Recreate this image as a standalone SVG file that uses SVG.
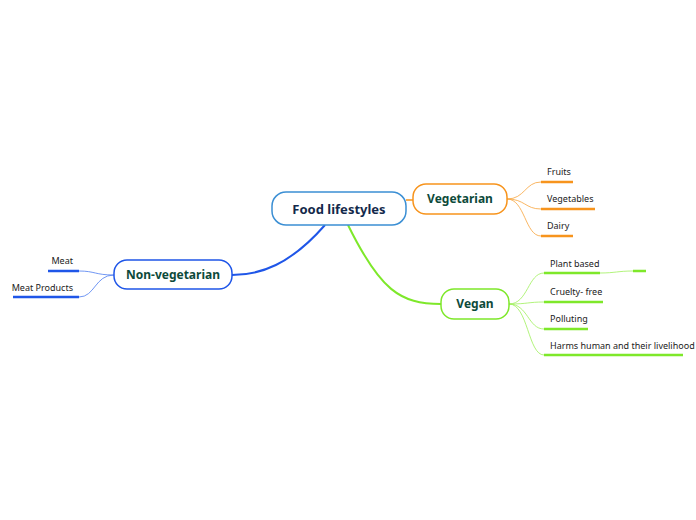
<svg xmlns="http://www.w3.org/2000/svg" width="696" height="520" viewBox="0 0 696 520">
<style>
text{font-family:"Noto Sans","Open Sans",sans-serif;}
.t{font-size:9px;fill:#222}
.n{font-size:12px;font-weight:bold;fill:#0d4a3a;text-anchor:middle}
.box{fill:#fff;stroke-width:1.5}
.c{fill:none}
</style>
<rect width="696" height="520" fill="#fff"/>
<g id="connectors" class="c">
<path d="M406,200 H413" stroke="#f7941d" stroke-width="1.5"/>
<path d="M348,225 C380,290 400,304 441,304" stroke="#7ee82a" stroke-width="2"/>
<path d="M325,225 C290,265 260,275 232,275" stroke="#1f56e8" stroke-width="2"/>
<g stroke="#f7a33b" stroke-width="0.8">
<path d="M507,199 C525,199 525,182 541,182"/>
<path d="M507,199 C525,199 525,209 541,209"/>
<path d="M507,199 C525,199 525,236 541,236"/>
</g>
<g stroke="#9ef05a" stroke-width="0.8">
<path d="M509,304 C528,304 528,273 544,273"/>
<path d="M509,304 C528,304 528,302 544,302"/>
<path d="M509,304 C528,304 528,329 544,329"/>
<path d="M509,304 C528,304 528,355 544,355"/>
<path d="M600,273 C615,273 618,271 633,271"/>
</g>
<g stroke="#4d7cf0" stroke-width="0.8">
<path d="M114,275 C95,275 95,271 79,271"/>
<path d="M114,275 C95,275 95,297 79,297"/>
</g>
</g>
<g stroke-width="2.5">
<path d="M541,182H573M541,209H595M541,236H573" stroke="#f7941d"/>
<path d="M544,273H600M633,271H646M544,302H603M544,329H588M544,355H683" stroke="#7ee82a"/>
<path d="M48,271H79M13,297H79" stroke="#1f56e8"/>
</g>
<g id="root"><rect class="box" x="272" y="192" width="134" height="33" rx="14" stroke="#3b8fd4"/><text x="339" y="214" class="n" style="font-size:13px;fill:#13294b">Food lifestyles</text></g>
<g id="vegetarian"><rect class="box" x="413" y="184" width="94" height="30" rx="13" stroke="#f7941d"/><text x="460" y="203" class="n">Vegetarian</text></g>
<g id="vegan"><rect class="box" x="441" y="289" width="68" height="30" rx="13" stroke="#7ee82a"/><text x="475" y="308" class="n">Vegan</text></g>
<g id="nonveg"><rect class="box" x="114" y="260" width="118" height="29" rx="13" stroke="#1f56e8"/><text x="173" y="279" class="n">Non-vegetarian</text></g>
<g id="fruits"><text x="547" y="175" class="t" font-size="8">Fruits</text></g>
<g id="vegetables"><text x="547" y="202" class="t">Vegetables</text></g>
<g id="dairy"><text x="547" y="229" class="t">Dairy</text></g>
<g id="plant"><text x="550" y="267" class="t">Plant based</text></g>
<g id="cruelty"><text x="550" y="295" class="t">Cruelty- free</text></g>
<g id="polluting"><text x="550" y="322" class="t">Polluting</text></g>
<g id="harms"><text x="550" y="349" class="t">Harms human and their livelihood</text></g>
<g id="meat"><text x="73" y="264" class="t" text-anchor="end">Meat</text></g>
<g id="meatproducts"><text x="73" y="291" class="t" text-anchor="end">Meat Products</text></g>
</svg>
